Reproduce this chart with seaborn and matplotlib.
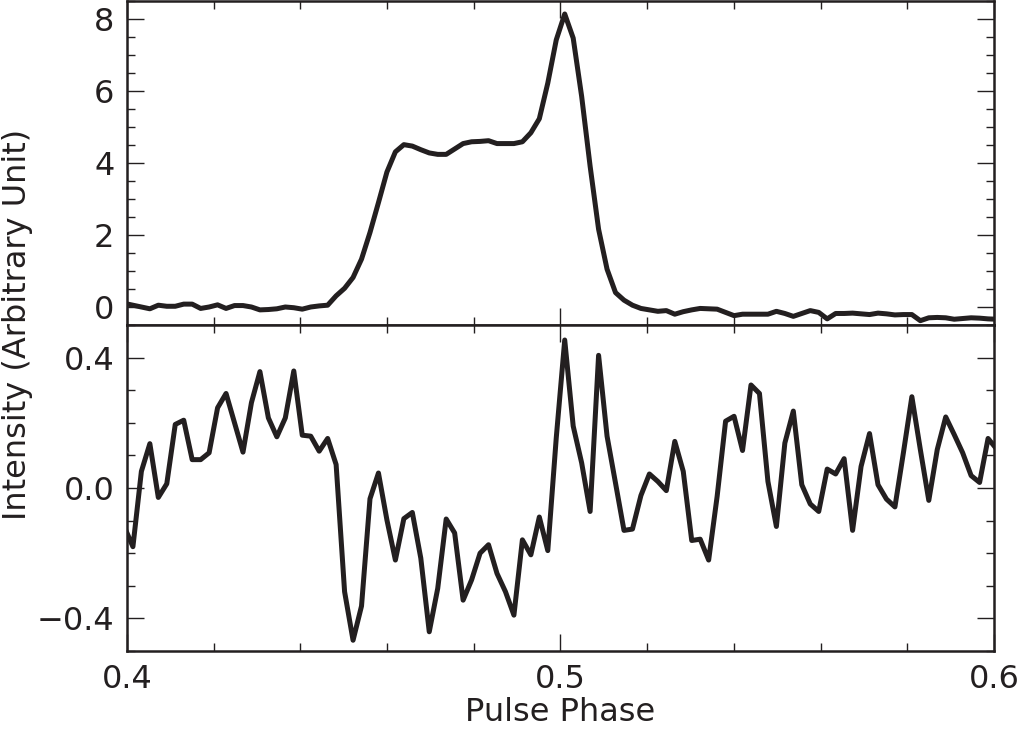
import numpy as np
import matplotlib
matplotlib.use("Agg")
import matplotlib.pyplot as plt
from matplotlib.ticker import MultipleLocator, AutoMinorLocator, FormatStrFormatter
import seaborn as sns

# phase bins: 512 bins per turn, bin centres from 0.3994 to 0.6006
phase = (np.arange(204, 308) + 0.5) / 512

# top panel: pulse profile
profile = [
    0.10, 0.05, 0.00, -0.05, 0.05, 0.02, 0.02, 0.08, 0.08, -0.04,
    0.00, 0.06, -0.04, 0.04, 0.04, 0.00, -0.08, -0.07, -0.05, 0.00,
    -0.02, -0.06, 0.00, 0.03, 0.05, 0.31, 0.52, 0.82, 1.33, 2.07,
    2.90, 3.75, 4.31, 4.51, 4.47, 4.37, 4.28, 4.24, 4.24, 4.39,
    4.54, 4.59, 4.60, 4.62, 4.54, 4.54, 4.54, 4.59, 4.84, 5.23,
    6.22, 7.42, 8.14, 7.47, 5.85, 3.91, 2.16, 1.05, 0.40, 0.19,
    0.05, -0.04, -0.08, -0.12, -0.10, -0.20, -0.13, -0.08, -0.04, -0.05,
    -0.06, -0.15, -0.24, -0.20, -0.20, -0.20, -0.20, -0.12, -0.18, -0.26,
    -0.18, -0.10, -0.15, -0.33, -0.18, -0.18, -0.17, -0.19, -0.21, -0.17,
    -0.19, -0.22, -0.21, -0.21, -0.38, -0.30, -0.29, -0.30, -0.34, -0.32,
    -0.30, -0.31, -0.33, -0.34,
]

# bottom panel: residual / difference
resid = [
    -0.12, -0.18, 0.051, 0.136, -0.029, 0.013, 0.195, 0.208, 0.087, 0.087,
    0.108, 0.246, 0.29, 0.20, 0.110, 0.262, 0.357, 0.215, 0.157, 0.215,
    0.359, 0.162, 0.159, 0.113, 0.152, 0.072, -0.318, -0.467, -0.362, -0.033,
    0.046, -0.098, -0.221, -0.094, -0.075, -0.215, -0.441, -0.308, -0.095, -0.138,
    -0.344, -0.282, -0.20, -0.174, -0.262, -0.318, -0.39, -0.159, -0.205, -0.089,
    -0.192, 0.154, 0.454, 0.19, 0.077, -0.072, 0.407, 0.159, 0.015, -0.13,
    -0.126, -0.023, 0.043, 0.02, -0.008, 0.143, 0.051, -0.161, -0.157, -0.221,
    -0.026, 0.205, 0.22, 0.115, 0.316, 0.29, 0.02, -0.118, 0.138, 0.236,
    0.01, -0.049, -0.072, 0.058, 0.043, 0.09, -0.13, 0.066, 0.167, 0.01,
    -0.034, -0.058, 0.108, 0.28, 0.118, -0.038, 0.118, 0.218, 0.164, 0.108,
    0.038, 0.017, 0.152, 0.12,
]

sns.set_style("ticks")
plt.rcParams["font.family"] = ["DejaVu Sans"]
plt.rcParams["font.size"] = 23
line_color = "#231f20"

fig = plt.figure(figsize=(10.2, 7.3), dpi=100)
ax1 = fig.add_axes([0.1245, 0.5548, 0.85, 0.4438])
ax2 = fig.add_axes([0.1245, 0.1082, 0.85, 0.4466], sharex=ax1)

sns.lineplot(x=phase, y=profile, ax=ax1, color=line_color, lw=3.6, estimator=None, sort=False)
sns.lineplot(x=phase, y=resid, ax=ax2, color=line_color, lw=3.6, estimator=None, sort=False)

ax1.set_xlim(0.4, 0.6)
ax1.set_ylim(-0.5, 8.5)
ax2.set_ylim(-0.5, 0.5)

ax1.yaxis.set_major_locator(MultipleLocator(2))
ax1.yaxis.set_minor_locator(AutoMinorLocator(4))
ax1.yaxis.set_major_formatter(FormatStrFormatter("%d"))
ax2.yaxis.set_major_locator(MultipleLocator(0.4))
ax2.yaxis.set_minor_locator(AutoMinorLocator(4))
ax2.xaxis.set_major_locator(MultipleLocator(0.1))
ax2.xaxis.set_minor_locator(MultipleLocator(0.02))

for ax in (ax1, ax2):
    for sp in ax.spines.values():
        sp.set_linewidth(1.8)
        sp.set_color(line_color)
    ax.tick_params(which="both", direction="in", top=True, right=True,
                   width=1.0, color=line_color, labelsize=23, labelcolor=line_color)
    ax.tick_params(which="major", length=12, pad=9)
    ax.tick_params(which="minor", length=6)
plt.setp(ax1.get_xticklabels(), visible=False)

ax2.set_xlabel("Pulse Phase", fontsize=23, color=line_color, labelpad=2)
fig.text(0.017, 0.555, "Intensity (Arbitrary Unit)", rotation=90, fontsize=23,
         color=line_color, ha="center", va="center")

fig.savefig("out.png", dpi=100)
